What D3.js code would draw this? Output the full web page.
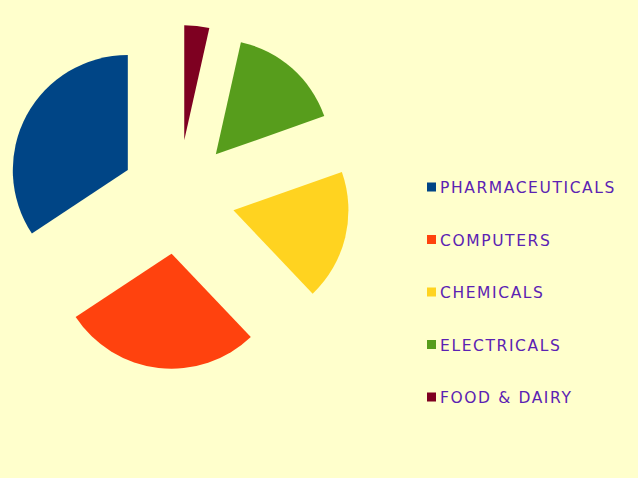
<!DOCTYPE html>
<html>
<head>
<meta charset="utf-8">
<script src="https://cdn.jsdelivr.net/npm/d3@7"></script>
<style>
  body { margin: 0; background: #ffffcc; }
  svg { display: block; }
</style>
</head>
<body>
<script>
// chart data
const sectors = ["PHARMACEUTICALS", "COMPUTERS", "CHEMICALS", "ELECTRICALS", "FOOD & DAIRY"];
const shares = [34.3, 27.8, 18.3, 16.1, 3.5];
const colours = ["#004586", "#ff420e", "#ffd320", "#579d1c", "#7e0021"];

const width = 638, height = 478;
const cx = 178, cy = 197;
const radius = 115;
const explode = 57;

const svg = d3.select("body").append("svg")
    .attr("width", width)
    .attr("height", height);

svg.append("rect")
    .attr("width", width)
    .attr("height", height)
    .attr("fill", "#ffffcc");

// pie runs counterclockwise from 12 o'clock
const pie = d3.pie()
    .sort(null)
    .startAngle(0)
    .endAngle(-2 * Math.PI)
    .value(d => d.v);

const arc = d3.arc().innerRadius(0).outerRadius(radius);

const data = sectors.map((s, i) => ({ name: s, v: shares[i], c: colours[i] }));

const pieG = svg.append("g")
    .attr("transform", "translate(" + cx + "," + cy + ")");

pieG.selectAll("path")
    .data(pie(data))
    .enter()
    .append("path")
    .attr("d", arc)
    .attr("fill", d => d.data.c)
    .attr("transform", function(d) {
        const mid = (d.startAngle + d.endAngle) / 2;
        return "translate(" + (explode * Math.sin(mid)) + "," + (-explode * Math.cos(mid)) + ")";
    });

// legend
const yLegend = d3.scalePoint()
    .domain(sectors)
    .range([187, 397]);

const legend = svg.append("g");

const rows = legend.selectAll("g")
    .data(data)
    .enter()
    .append("g")
    .attr("transform", d => "translate(427," + yLegend(d.name) + ")");

rows.append("rect")
    .attr("x", 0)
    .attr("y", -4.5)
    .attr("width", 9)
    .attr("height", 9)
    .attr("fill", d => d.c);

rows.append("text")
    .attr("x", 13)
    .attr("y", 6)
    .style("font-family", "'DejaVu Sans', sans-serif")
    .style("font-size", "15.5px")
    .style("letter-spacing", "1.6px")
    .style("fill", "#5b22b3")
    .text(d => d.name);
</script>
</body>
</html>
